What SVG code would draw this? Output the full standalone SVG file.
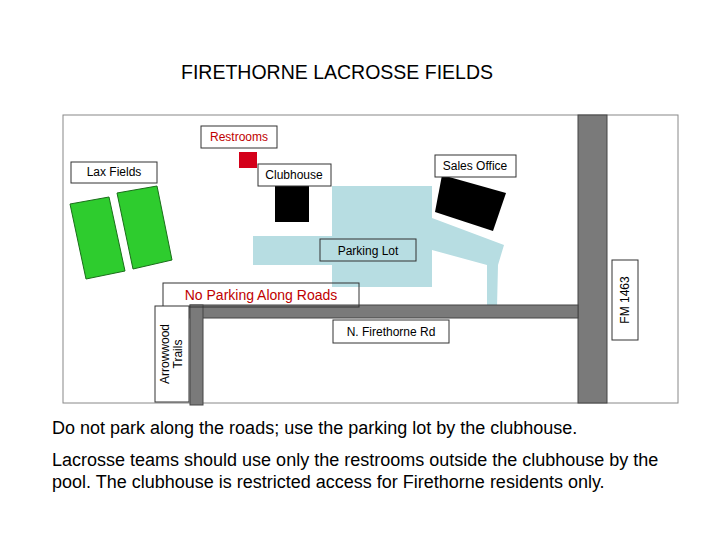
<svg xmlns="http://www.w3.org/2000/svg" width="720" height="540" viewBox="0 0 720 540">
<style>
text{font-family:"Liberation Sans",Arial,sans-serif;fill:#000}
.lb{fill:#fff;stroke:#333;stroke-width:1}
.s{font-size:12px}
.lot{fill:#b7dde2}
.road{fill:#7a7a7a;stroke:#444;stroke-width:1}
.field{fill:#2ecc2e;stroke:#1a6e1a;stroke-width:1}
</style>
<rect width="720" height="540" fill="#fff"/>
<text x="337" y="79" font-size="19.5" text-anchor="middle">FIRETHORNE LACROSSE FIELDS</text>
<rect x="63" y="115" width="615" height="288" fill="#fff" stroke="#888"/>
<g id="parking">
<rect class="lot" x="332" y="186" width="100" height="101"/>
<rect class="lot" x="253" y="236" width="79" height="29"/>
<polygon class="lot" points="432,218 504,245 498,265 497,307 487,307 487,265 432,250"/>
</g>
<g id="roads">
<rect class="road" x="578" y="115" width="29" height="288"/>
<rect class="road" x="190" y="305" width="388" height="13"/>
<rect class="road" x="190" y="305" width="13" height="100"/>
</g>
<g id="fields">
<polygon class="field" points="70,204 109,197 125,271 86,279"/>
<polygon class="field" points="117,193 157,186 172,260 133,269"/>
</g>
<g id="buildings">
<rect x="239" y="152" width="18" height="16" fill="#d4001a"/>
<rect x="275" y="184" width="34" height="38" fill="#000"/>
<polygon points="442,175 506,193 493,231 435,212" fill="#000"/>
</g>
<g id="labels">
<g id="restrooms"><rect class="lb" x="201" y="126" width="76" height="22"/><text class="s" x="239" y="141" text-anchor="middle" style="fill:#c00000">Restrooms</text></g>
<g id="laxfields"><rect class="lb" x="71" y="162" width="86" height="21"/><text class="s" x="114" y="176" text-anchor="middle">Lax Fields</text></g>
<g id="clubhouse"><rect class="lb" x="258" y="164" width="73" height="22"/><text class="s" x="294" y="179" text-anchor="middle">Clubhouse</text></g>
<g id="salesoffice"><rect class="lb" x="435" y="155" width="81" height="22"/><text class="s" x="475" y="170" text-anchor="middle">Sales Office</text></g>
<g id="parkinglot"><rect class="lb" x="320" y="239" width="96" height="22" style="fill:#b7dde2"/><text class="s" x="368" y="255" text-anchor="middle">Parking Lot</text></g>
<g id="noparking"><rect class="lb" x="163" y="283" width="196" height="24" style="fill:none"/><text x="261" y="300" font-size="14" text-anchor="middle" style="fill:#c00000">No Parking Along Roads</text></g>
<g id="firethorne"><rect class="lb" x="333" y="320" width="116" height="23"/><text class="s" x="391" y="336" text-anchor="middle">N. Firethorne Rd</text></g>
<g id="fm1463"><rect class="lb" x="612" y="260" width="26" height="80"/><text class="s" transform="translate(629,300) rotate(-90)" text-anchor="middle">FM 1463</text></g>
<g id="arrowwood"><rect class="lb" x="155" y="306" width="34" height="96"/><text class="s" transform="translate(172,354) rotate(-90)" text-anchor="middle"><tspan x="0" y="-3">Arrowwood</tspan><tspan x="0" y="10">Trails</tspan></text></g>
</g>
<text x="52" y="434" font-size="18">Do not park along the roads; use the parking lot by the clubhouse.</text>
<text x="52" y="466" font-size="18">Lacrosse teams should use only the restrooms outside the clubhouse by the</text>
<text x="52" y="488" font-size="18">pool. The clubhouse is restricted access for Firethorne residents only.</text>
</svg>
